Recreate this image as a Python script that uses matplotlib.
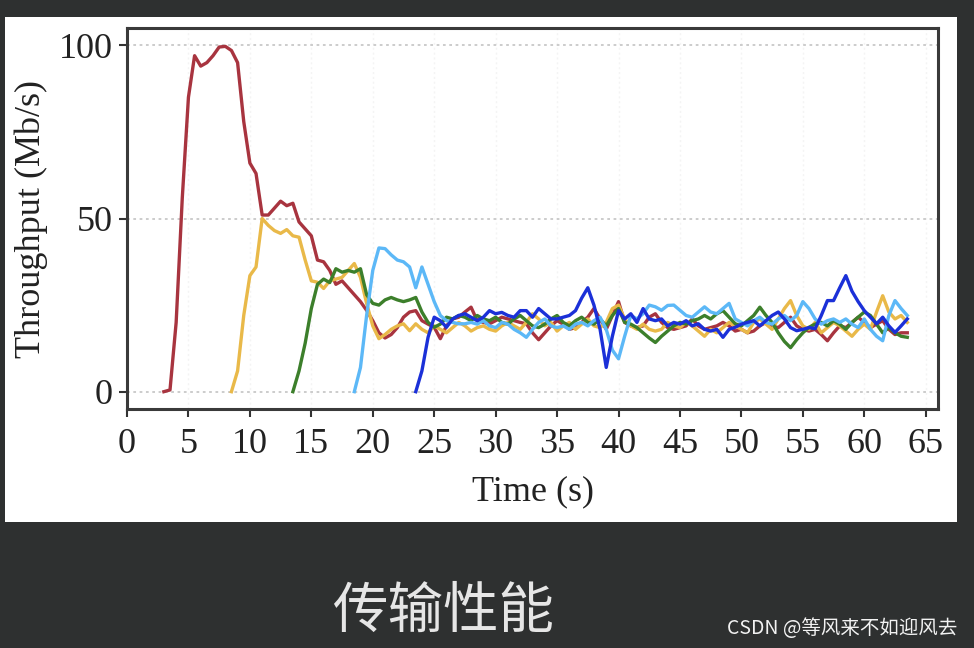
import numpy as np
import matplotlib
matplotlib.use("Agg")
import matplotlib.pyplot as plt
from matplotlib.patches import Rectangle

# throughput of five flows (Mb/s), sampled every 0.5 s from each start time
red_start = 3.0
red = [0, 0.5, 20, 56, 85, 97, 94, 95, 97, 99.5, 99.7, 98.5, 95, 78, 66, 63, 51, 51, 53, 55,
       53.7, 54.4, 49, 47, 45, 38, 37.5, 35, 31, 32, 30, 28, 26, 23.5, 20.5, 17, 15.5, 16.5, 18.5, 21.5,
       23, 23.4, 20.5, 19.5, 18.6, 15.3, 19, 21, 21.5, 23, 24.4, 20.5, 20, 19.6, 20.5, 21.5, 21, 20.5, 20, 19.6,
       17, 15, 17, 19, 20.5, 19.5, 18, 18.5, 20, 21.5, 24, 21, 18, 22, 26, 20, 19, 18.5, 19, 21.5,
       22.5, 20, 18.5, 18, 18.5, 19, 21, 19, 18, 18.5, 19, 20, 19, 17.5, 18, 17, 17.5, 19, 20, 19,
       18.5, 20, 21.5, 19, 18, 17.5, 18, 16.5, 14.7, 17, 19, 18.5, 20, 21.5, 20, 18.5, 19.5, 20.5, 18, 16.5,
       17, 17]

yellow_start = 8.5
yellow = [0, 6, 22, 33.5, 36, 50, 48, 46.5, 45.7, 46.8, 45, 44.6, 38, 32, 31.6, 29.8, 32, 32.5, 33, 35,
          37, 33, 25.5, 19, 15.3, 16.5, 18, 19, 19.6, 17.6, 19.6, 18, 17, 19, 18, 17, 18.5, 20, 19, 17.5,
          18.5, 19, 18, 17.5, 19, 20, 19, 18, 20, 22.5, 21, 19, 20, 17.5, 19, 20, 18, 19.5, 21, 19,
          18.5, 20, 24, 25, 21, 19, 18, 19.5, 18, 17.5, 18, 20, 19, 18.5, 20, 19, 17.5, 16, 18, 17,
          18.5, 20, 19, 18, 17, 20, 21, 19.5, 18, 21, 24, 26.3, 22, 19, 18, 20, 17, 18.5, 20, 19,
          17.5, 16, 18, 19.5, 18, 23, 27.7, 23, 21, 22, 20]

green_start = 13.5
green = [0, 6, 14, 24, 31, 32.5, 31.5, 35.5, 34.5, 35, 34.5, 35.5, 28, 25.5, 25, 26.5, 27.2, 26.5, 26, 26.5,
         27.2, 23, 20, 18.6, 19.5, 21.5, 21, 22, 21.5, 20.5, 22, 21, 20.5, 21.5, 20, 19.5, 21, 22, 20.5, 19,
         18.5, 19.5, 21, 22, 20, 19, 20.5, 21.5, 20, 19.5, 21, 19, 22, 24, 20, 19.5, 18.5, 17, 15.5, 14.2,
         16, 17.5, 19, 20, 19.5, 20.5, 21, 22, 21, 22.5, 23.4, 21.5, 19.6, 19, 20.5, 22, 24.4, 22, 20, 17,
         14.5, 12.7, 15, 17, 18.6, 19.5, 20, 19, 20.5, 19.5, 18, 20, 21.5, 23, 22, 19.5, 17, 18.5, 17, 16,
         15.7]

lightblue_start = 18.5
lightblue = [0, 7, 22, 35, 41.5, 41.3, 39.5, 38, 37.5, 36, 30, 36, 31, 26, 22, 20.5, 20, 19.6, 19.6, 20,
             19.5, 20.5, 19, 18.5, 20, 19.5, 18, 17, 15.7, 18, 20, 21, 19, 18.5, 19, 18, 19.5, 20, 19, 20.5,
             21.5, 18, 12, 9.5, 16, 22, 21, 22.5, 25, 24.5, 23.5, 24.9, 25, 23.5, 22, 21.5, 23, 24.5, 23, 22.5,
             24, 25.5, 21, 20, 19, 20.5, 21.5, 20, 19.5, 21, 22, 20.5, 22, 26, 24, 21, 19.5, 20.5, 21, 20,
             21, 19.5, 18.5, 21, 18, 16, 14.7, 22, 26.3, 24, 22]

blue_start = 23.5
blue = [0, 6, 15.7, 21.5, 20.5, 18.6, 21, 22, 22.5, 21.5, 20.5, 21.5, 23.4, 22.5, 22.9, 22, 21.5, 23.4, 23.4, 21.5,
        24, 22.5, 21, 21, 21.5, 22, 23.4, 27, 30, 25, 18, 7, 16, 23.4, 21, 22.5, 20, 24, 21, 20.5,
        21, 19, 20, 19.5, 20.5, 19, 19.6, 18, 17.5, 18, 15.7, 18, 18.6, 19.5, 20, 20.5, 19, 20.5, 22, 23,
        21, 18.5, 17.6, 18, 18.5, 18.2, 22, 26.3, 26.3, 30, 33.5, 29, 26, 23.4, 21.5, 19.6, 21.5, 19, 17.1, 19,
        21]

series = [
    (red_start, red, "#a8343f"),
    (yellow_start, yellow, "#e9b949"),
    (green_start, green, "#3c7f2b"),
    (lightblue_start, lightblue, "#5cb8f7"),
    (blue_start, blue, "#1b30d8"),
]

xticks = list(range(0, 70, 5))
yticks = [0, 50, 100]

W, H = 974, 648
fig = plt.figure(figsize=(W / 100, H / 100), dpi=100)
fig.patch.set_facecolor("#2e3030")

# white slide panel behind the chart
fig.patches.append(Rectangle((5 / W, 1 - 522 / H), 952 / W, 505 / H,
                             transform=fig.transFigure, facecolor="white",
                             edgecolor="none", zorder=-5))

ax = fig.add_axes([127 / W, 1 - 409 / H, (938 - 127) / W, (409 - 28) / H])
ax.set_zorder(2)
ax.set_facecolor("white")

for start, vals, col in series:
    t = start + 0.5 * np.arange(len(vals))
    ax.plot(t, vals, color=col, lw=2.4, solid_joinstyle="round")

ax.set_xlim(0, 66)
ax.set_ylim(-5, 105)
ax.set_xticks(xticks)
ax.set_yticks(yticks)

ax.grid(axis="y", color="#c8c8c8", ls=(0, (1.5, 2)), lw=1.3)
ax.grid(axis="x", color="#f4f4f4", ls=(0, (1.5, 2)), lw=1.0)
ax.set_axisbelow(True)

for s in ax.spines.values():
    s.set_color("#3a3a3a")
    s.set_linewidth(2.2)

tick_font = dict(family="Liberation Serif", size=26)
ax.tick_params(direction="out", length=6, width=1.5, color="#333333", labelcolor="#222222")
ax.tick_params(axis="x", pad=8)
ax.tick_params(axis="y", pad=4)
for lab in ax.get_xticklabels() + ax.get_yticklabels():
    lab.set_fontfamily("Liberation Serif")
    lab.set_fontsize(26)

ax.set_xlabel("Time (s)", fontdict=tick_font, color="#222222", labelpad=10)
ax.set_ylabel("Throughput (Mb/s)", fontdict=tick_font, color="#222222", labelpad=8)

fig.text(443 / W, 1 - 612 / H, "传输性能", family=["Noto Sans CJK SC", "DejaVu Sans"],
         fontsize=40, color="#e6e6e6", ha="center", va="center")
fig.text(957 / W, 1 - 628 / H, "CSDN @等风来不如迎风去", family=["Noto Sans CJK SC", "DejaVu Sans"],
         fontsize=14, color="#f2f2f2", ha="right", va="center")

fig.savefig("out.png", dpi=100, facecolor=fig.get_facecolor())
